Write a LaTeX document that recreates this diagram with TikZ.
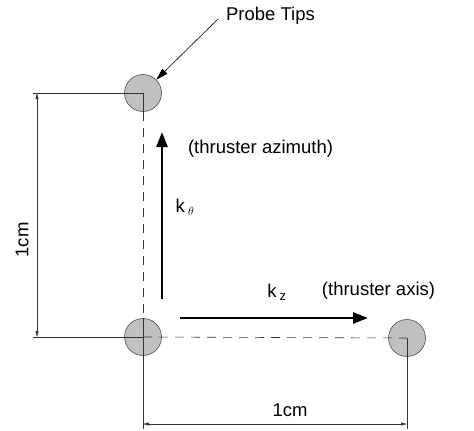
\documentclass[tikz,border=0pt]{standalone}
\usepackage{fontspec}
\setmainfont{Liberation Sans}
\usetikzlibrary{arrows.meta}
\definecolor{tipgray}{RGB}{192,192,192}
\begin{document}
\begin{tikzpicture}[x=1pt,y=-1pt,
  tip/.style={circle,draw=black!70,fill=tipgray,line width=0.6pt,minimum size=37pt,inner sep=0pt},
  thin line/.style={line width=0.6pt,draw=black!80},
  dim/.style={line width=0.6pt,draw=black!80,{Triangle[length=6pt,width=3pt]}-{Triangle[length=6pt,width=3pt]}},
  dashline/.style={line width=0.6pt,draw=black!80,dash pattern=on 9pt off 7pt},
  bigarrow/.style={line width=2.6pt,-{Triangle[length=15pt,width=11pt]}},
  lbl/.style={font=\fontsize{18.5}{21}\selectfont,inner sep=0pt}]
\useasboundingbox (0,0) rectangle (474,431);
% probe tips
\node[tip] (t1) at (143,93) {};
\node[tip] (t2) at (143,337) {};
\node[tip] (t3) at (407,338) {};
% dashed lines
\draw[dashline] (t1.center) ++(0,19) coordinate (d1) -- (t2.center);
\draw[dashline] (t2.center) -- (t3.center);
% center marks
\draw[thin line] (t1.center) -- ++(0,19);
\draw[thin line] (t2.center) ++(0,-19) -- ++(0,19);
% extension lines
\coordinate (e1) at (33,93);
\coordinate (e2) at (33,337);
\coordinate (e3) at (143,429);
\coordinate (e4) at (407,429);
\draw[thin line] (e1) -- (t1.center);
\draw[thin line] (e2) -- (t2.center);
\draw[thin line] (t2.center) -- (e3);
\draw[thin line] (t3.center) -- (e4);
% dimension lines
\coordinate (v1) at (37,93);
\coordinate (v2) at (37,337);
\coordinate (h1) at (143,424);
\coordinate (h2) at (407,424);
\draw[dim] (v1) -- (v2);
\draw[dim] (h1) -- (h2);
\node[lbl,rotate=90] (dl) at (22,240) {1cm};
\node[lbl] (dh) at (290,410) {1cm};
% k arrows
\coordinate (a1) at (162,299);
\coordinate (a2) at (162,132);
\coordinate (b1) at (180,318);
\coordinate (b2) at (368,318);
\draw[bigarrow] (a1) -- (a2);
\draw[bigarrow] (b1) -- (b2);
\node[lbl] (kt) at (185,207) {k\,$_{\theta}$};
\node[lbl] (kz) at (277,292) {k\,$_{\mathrm{z}}$};
\node[lbl] (az) at (260.5,149) {(thruster azimuth)};
\node[lbl] (ax) at (378.5,291) {(thruster axis)};
% probe tips label
\node[lbl] (pt) at (270.5,16) {Probe Tips};
\coordinate (pa) at (218,19);
\draw[line width=0.6pt,-{Triangle[length=12pt,width=7pt]}] (pa) -- (t1.45);
\end{tikzpicture}
\end{document}
